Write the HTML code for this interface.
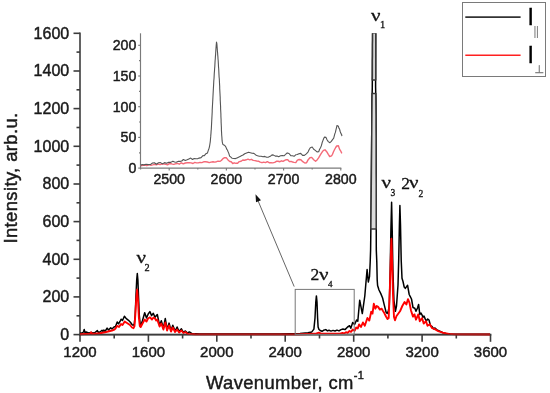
<!DOCTYPE html>
<html><head><meta charset="utf-8"><title>Raman spectrum</title>
<style>html,body{margin:0;padding:0;background:#fff;}svg{display:block;filter:blur(0.3px);}</style>
</head><body>
<svg width="550" height="393" viewBox="0 0 550 393">
<rect width="550" height="393" fill="#fff"/>
<g stroke="#3c3c3c" stroke-width="1.6" fill="none" stroke-linecap="butt">
<line x1="80" y1="32.5" x2="80" y2="335.4"/>
<line x1="79.2" y1="334.6" x2="491.3" y2="334.6"/>
<line x1="73.5" y1="334.6" x2="80" y2="334.6"/>
<line x1="76.5" y1="315.8" x2="80" y2="315.8"/>
<line x1="73.5" y1="296.9" x2="80" y2="296.9"/>
<line x1="76.5" y1="278.1" x2="80" y2="278.1"/>
<line x1="73.5" y1="259.3" x2="80" y2="259.3"/>
<line x1="76.5" y1="240.4" x2="80" y2="240.4"/>
<line x1="73.5" y1="221.6" x2="80" y2="221.6"/>
<line x1="76.5" y1="202.8" x2="80" y2="202.8"/>
<line x1="73.5" y1="184.0" x2="80" y2="184.0"/>
<line x1="76.5" y1="165.1" x2="80" y2="165.1"/>
<line x1="73.5" y1="146.3" x2="80" y2="146.3"/>
<line x1="76.5" y1="127.5" x2="80" y2="127.5"/>
<line x1="73.5" y1="108.6" x2="80" y2="108.6"/>
<line x1="76.5" y1="89.8" x2="80" y2="89.8"/>
<line x1="73.5" y1="71.0" x2="80" y2="71.0"/>
<line x1="76.5" y1="52.1" x2="80" y2="52.1"/>
<line x1="73.5" y1="33.3" x2="80" y2="33.3"/>
<line x1="80.0" y1="334.6" x2="80.0" y2="341.8"/>
<line x1="114.2" y1="334.6" x2="114.2" y2="338.5"/>
<line x1="148.4" y1="334.6" x2="148.4" y2="341.8"/>
<line x1="182.6" y1="334.6" x2="182.6" y2="338.5"/>
<line x1="216.8" y1="334.6" x2="216.8" y2="341.8"/>
<line x1="251.0" y1="334.6" x2="251.0" y2="338.5"/>
<line x1="285.2" y1="334.6" x2="285.2" y2="341.8"/>
<line x1="319.5" y1="334.6" x2="319.5" y2="338.5"/>
<line x1="353.7" y1="334.6" x2="353.7" y2="341.8"/>
<line x1="387.9" y1="334.6" x2="387.9" y2="338.5"/>
<line x1="422.1" y1="334.6" x2="422.1" y2="341.8"/>
<line x1="456.3" y1="334.6" x2="456.3" y2="338.5"/>
<line x1="490.5" y1="334.6" x2="490.5" y2="341.8"/>
</g>
<g font-family="Liberation Sans, Arial, sans-serif" font-size="16" fill="#1a1a1a" stroke="#1a1a1a" stroke-width="0.45" text-anchor="end">
<text x="69.2" y="339.9">0</text>
<text x="69.2" y="302.2">200</text>
<text x="69.2" y="264.6">400</text>
<text x="69.2" y="226.9">600</text>
<text x="69.2" y="189.3">800</text>
<text x="69.2" y="151.6">1000</text>
<text x="69.2" y="113.9">1200</text>
<text x="69.2" y="76.3">1400</text>
<text x="69.2" y="38.6">1600</text>
</g>
<g font-family="Liberation Sans, Arial, sans-serif" font-size="15" fill="#1a1a1a" stroke="#1a1a1a" stroke-width="0.45" text-anchor="middle">
<text x="80.0" y="357.4">1200</text>
<text x="148.4" y="357.4">1600</text>
<text x="216.8" y="357.4">2000</text>
<text x="285.2" y="357.4">2400</text>
<text x="353.7" y="357.4">2800</text>
<text x="422.1" y="357.4">3200</text>
<text x="490.5" y="357.4">3600</text>
</g>
<text x="206" y="388.5" font-family="Liberation Sans, Arial, sans-serif" font-size="18.4" letter-spacing="0.38" fill="#1a1a1a" stroke="#1a1a1a" stroke-width="0.45">Wavenumber, cm<tspan font-size="11" dy="-10">-1</tspan></text>
<text transform="translate(17.2,243.6) rotate(-90)" font-family="Liberation Sans, Arial, sans-serif" font-size="18.4" letter-spacing="0.4" fill="#1a1a1a" stroke="#1a1a1a" stroke-width="0.45">Intensity, arb.u.</text>
<defs><clipPath id="cp"><rect x="80" y="33.3" width="420" height="310"/></clipPath></defs>
<g clip-path="url(#cp)" fill="none" stroke-linejoin="round">
<polyline points="80.0,333.3 82.0,333.0 83.5,332.0 84.2,329.5 85.0,332.5 86.7,332.1 88.5,333.0 91.1,332.4 93.0,333.0 95.0,332.5 97.3,330.6 98.5,332.5 100.0,332.0 102.0,330.3 103.0,331.5 103.8,330.0 105.0,331.5 107.1,328.1 108.5,330.0 110.7,327.7 112.0,329.0 114.0,327.0 115.5,326.5 117.2,321.9 118.5,323.8 120.0,321.5 121.2,319.2 122.5,320.5 124.4,316.2 125.8,318.0 127.0,319.2 128.5,320.3 130.4,322.3 132.0,324.5 133.2,325.3 134.3,324.0 135.2,315.0 136.0,295.0 136.7,280.0 137.3,273.5 137.9,280.0 138.6,298.0 139.3,315.0 140.1,323.5 140.8,325.3 142.5,320.5 144.7,312.7 146.5,317.9 148.2,314.0 149.9,311.6 151.6,315.6 153.3,313.3 155.0,317.3 157.3,314.5 159.6,325.3 161.3,320.8 163.4,328.2 165.3,318.5 167.1,329.4 169.1,323.1 171.0,330.5 172.8,325.3 175.1,331.0 177.1,327.0 179.1,331.6 181.4,328.8 183.4,332.3 185.4,331.0 187.4,333.0 189.4,331.9 192.0,333.6 200.0,333.9 220.0,334.0 250.0,334.0 280.0,333.9 300.0,333.6 308.0,332.8 311.8,331.9 313.9,329.1 315.0,318.0 315.8,302.0 316.4,295.9 317.0,302.0 317.6,318.0 318.1,327.0 319.0,329.5 320.2,330.5 322.0,331.3 323.5,330.3 325.8,329.6 327.5,330.9 329.0,330.3 331.0,331.1 333.0,330.4 335.0,331.0 337.0,330.1 339.0,330.9 341.0,329.6 343.0,329.0 345.0,329.6 347.6,327.0 349.6,325.7 350.8,328.2 352.7,322.5 354.6,324.4 356.6,320.0 357.8,321.2 359.7,300.2 362.3,313.6 364.8,296.0 366.0,282.0 367.1,269.6 368.3,282.0 369.5,276.5 370.2,262.0 370.6,250.0 371.1,210.0 371.6,150.0 372.0,100.0 372.3,87.0 372.6,33.0 372.8,20.0 375.5,20.0 375.7,33.0 375.6,87.0 375.9,100.0 376.1,150.0 376.2,210.0 376.3,250.0 376.8,262.0 377.2,280.0 377.6,285.5 379.0,290.0 380.8,293.6 382.6,298.0 384.3,305.1 386.1,312.2 387.2,313.5 388.3,311.0 389.3,305.0 390.2,270.0 390.9,230.0 391.6,202.3 392.2,230.0 392.9,270.0 393.9,300.0 395.4,311.3 396.5,306.0 398.0,285.0 398.7,260.0 399.4,225.0 399.9,205.5 400.5,225.0 401.2,260.0 402.0,278.2 403.0,281.5 404.2,287.0 405.3,288.4 407.6,285.3 409.2,294.5 410.4,296.8 411.5,299.0 413.0,307.5 414.8,308.2 416.0,311.3 417.5,308.0 418.6,304.4 419.8,314.4 421.0,313.0 422.1,315.1 422.9,317.4 424.0,316.0 425.2,318.9 426.3,321.2 427.7,319.0 429.0,320.0 430.5,325.8 432.0,326.5 433.6,328.9 435.0,328.0 436.6,329.6 439.7,331.1 442.5,332.5 445.8,333.4 450.0,334.0 490.0,334.3" stroke="#000" stroke-width="1.5"/>
<polyline points="80.0,334.2 85.0,334.0 90.0,333.8 91.1,332.2 92.0,333.8 95.0,333.6 100.0,333.2 105.0,332.3 108.0,331.5 110.0,331.0 112.0,330.5 114.4,329.6 115.5,328.5 117.0,325.9 119.0,327.0 121.0,324.0 122.5,325.0 124.7,321.6 127.0,323.0 130.0,325.0 132.0,327.5 133.5,328.2 134.5,326.0 135.3,315.0 136.2,300.0 137.1,289.5 138.0,300.0 138.9,318.0 139.8,326.0 140.7,327.0 142.5,323.5 144.7,319.6 146.5,321.5 148.0,318.5 150.0,317.3 152.0,319.5 153.5,317.5 155.0,318.5 156.2,320.5 157.3,319.6 159.6,326.5 161.3,323.5 163.4,329.5 165.3,322.5 167.1,330.5 169.1,325.5 171.0,331.5 172.8,327.5 175.1,332.0 177.1,329.5 179.1,332.5 181.4,330.5 183.4,333.0 185.4,332.0 188.0,333.9 195.0,334.3 250.0,334.4 300.0,334.3 315.0,333.8 319.0,332.7 321.0,333.6 340.0,333.6 342.5,333.0 344.0,333.5 346.0,332.2 347.6,332.8 349.5,331.0 351.0,331.8 352.7,329.6 354.6,330.8 356.2,327.5 357.8,328.4 359.1,324.4 361.0,327.0 362.9,322.5 364.8,325.7 367.4,318.0 369.3,320.6 371.2,311.7 372.5,313.6 373.8,303.8 375.4,308.7 376.7,306.0 378.1,306.9 379.9,309.6 381.7,308.7 383.0,311.0 384.3,313.1 386.0,316.5 387.5,319.0 388.7,318.0 389.8,290.0 390.8,257.0 391.4,238.8 392.0,257.0 393.0,295.0 394.0,317.0 395.0,320.3 396.5,316.0 398.0,314.0 400.0,311.3 402.3,306.0 404.6,302.1 406.4,304.4 408.0,299.1 409.5,302.9 411.0,310.5 413.0,316.6 414.5,314.4 416.0,319.7 418.3,314.4 419.8,321.2 422.1,318.2 423.7,323.5 426.0,321.2 427.5,325.8 429.8,324.3 432.0,328.1 434.4,328.9 438.2,331.1 442.7,332.7 448.9,333.9 455.0,334.4 490.0,334.5" stroke="#ff0000" stroke-width="1.9"/>
<polygon points="372.6,33.0 372.6,36.9 372.6,40.8 372.5,44.8 372.5,48.7 372.5,52.6 372.5,56.5 372.4,60.4 372.4,64.3 372.4,68.2 372.4,72.2 372.4,76.1 372.3,80.0 375.7,80.0 375.7,76.1 375.7,72.2 375.7,68.2 375.7,64.3 375.7,60.4 375.7,56.5 375.7,52.6 375.7,48.7 375.7,44.8 375.7,40.8 375.7,36.9 375.7,33.0" fill="#dcdcdc" stroke="#383838" stroke-width="1.5"/>
<polygon points="372.1,93.6 372.0,104.9 371.9,116.2 371.8,127.4 371.7,138.7 371.6,150.0 371.5,161.3 371.4,172.6 371.3,183.9 371.2,195.2 371.1,206.4 371.0,217.7 370.9,229.0 376.2,229.0 376.2,217.7 376.2,206.4 376.2,195.2 376.2,183.9 376.1,172.6 376.1,161.3 376.1,150.0 376.1,138.7 376.0,127.4 376.0,116.2 375.9,104.9 375.8,93.6" fill="#dcdcdc" stroke="#383838" stroke-width="1.5"/>
</g>
<line x1="79.2" y1="334.6" x2="491.3" y2="334.6" stroke="#3c3c3c" stroke-width="1.6" stroke-opacity="0.45"/>
<rect x="295.2" y="289.4" width="59" height="45" fill="none" stroke="#777" stroke-width="1"/>
<line x1="294.2" y1="286.6" x2="257.5" y2="199.5" stroke="#666" stroke-width="1"/>
<polygon points="255.5,194.2 256.0,202.3 261.0,200.2" fill="#111"/>
<g stroke="#7a7a7a" stroke-width="1.15" fill="none">
<line x1="140.5" y1="33.3" x2="140.5" y2="168.6"/>
<line x1="140" y1="168.1" x2="341.3" y2="168.1"/>
<line x1="138.2" y1="168.1" x2="140.5" y2="168.1"/>
<line x1="139.0" y1="152.8" x2="140.5" y2="152.8"/>
<line x1="138.2" y1="137.4" x2="140.5" y2="137.4"/>
<line x1="139.0" y1="122.0" x2="140.5" y2="122.0"/>
<line x1="138.2" y1="106.7" x2="140.5" y2="106.7"/>
<line x1="139.0" y1="91.3" x2="140.5" y2="91.3"/>
<line x1="138.2" y1="76.0" x2="140.5" y2="76.0"/>
<line x1="139.0" y1="60.6" x2="140.5" y2="60.6"/>
<line x1="138.2" y1="45.3" x2="140.5" y2="45.3"/>
<line x1="140.6" y1="168.1" x2="140.6" y2="169.6"/>
<line x1="169.2" y1="168.1" x2="169.2" y2="170.6"/>
<line x1="197.8" y1="168.1" x2="197.8" y2="169.6"/>
<line x1="226.4" y1="168.1" x2="226.4" y2="170.6"/>
<line x1="255.0" y1="168.1" x2="255.0" y2="169.6"/>
<line x1="283.6" y1="168.1" x2="283.6" y2="170.6"/>
<line x1="312.2" y1="168.1" x2="312.2" y2="169.6"/>
<line x1="340.8" y1="168.1" x2="340.8" y2="170.6"/>
</g>
<g font-family="Liberation Sans, Arial, sans-serif" font-size="14.2" fill="#1a1a1a" stroke="#1a1a1a" stroke-width="0.45" text-anchor="end">
<text x="136.3" y="173.0">0</text>
<text x="136.3" y="142.3">50</text>
<text x="136.3" y="111.6">100</text>
<text x="136.3" y="80.9">150</text>
<text x="136.3" y="50.2">200</text>
</g>
<g font-family="Liberation Sans, Arial, sans-serif" font-size="14.2" fill="#1a1a1a" stroke="#1a1a1a" stroke-width="0.45" text-anchor="middle">
<text x="169.2" y="183.6">2500</text>
<text x="226.4" y="183.6">2600</text>
<text x="283.6" y="183.6">2700</text>
<text x="340.8" y="183.6">2800</text>
</g>
<polyline points="140.8,165.8 142.9,165.4 144.8,165.1 146.9,165.7 149.0,164.7 150.9,165.3 152.7,164.9 154.5,164.4 156.3,164.9 158.2,164.1 160.0,164.6 161.9,164.0 163.8,163.9 165.7,164.3 167.6,164.8 169.2,163.7 171.0,163.7 172.4,164.1 173.8,164.4 176.0,163.7 177.5,163.4 179.3,164.2 181.2,162.8 183.3,163.9 185.3,163.0 187.3,162.8 189.2,162.7 191.1,162.9 193.0,163.5 194.8,162.4 196.5,162.9 198.2,162.9 200.0,162.4 201.8,162.6 203.7,161.8 205.6,161.8 207.4,162.0 209.2,162.6 211.0,162.1 213.0,161.8 214.8,162.1 216.5,161.7 218.0,161.2 219.9,161.4 221.3,160.5 222.9,158.7 224.6,157.7 226.4,157.8 228.2,160.2 229.8,161.5 231.2,161.8 232.7,163.5 234.2,162.8 236.0,163.3 237.6,163.3 239.3,161.6 241.1,161.3 242.8,160.0 244.5,160.2 246.2,159.8 248.0,159.2 249.7,159.8 251.4,159.3 253.2,160.4 255.0,160.6 256.7,161.0 258.4,161.2 260.2,162.2 262.0,162.7 263.7,162.1 265.5,162.6 267.3,161.7 269.1,162.7 270.9,162.6 272.8,162.9 274.7,162.4 276.4,161.3 278.0,161.3 279.9,161.7 281.5,160.8 283.0,161.4 284.7,160.4 286.2,159.7 287.8,159.7 289.4,161.6 291.0,161.4 292.6,162.0 294.1,162.4 295.8,162.6 297.4,160.1 299.1,159.5 300.9,159.7 302.8,161.7 304.8,163.0 306.6,162.7 308.2,159.7 309.9,157.8 311.7,157.4 313.7,159.7 315.6,161.3 317.3,159.7 318.6,157.9 319.9,155.6 321.1,153.6 322.3,151.8 323.5,150.4 325.0,149.8 326.7,151.7 328.3,154.4 329.7,156.5 331.5,155.8 332.5,154.3 333.5,151.7 334.6,149.5 335.7,147.5 336.7,146.0 338.4,145.7 339.5,149.1 340.6,150.8 341.6,152.9 341.9,153.4" fill="none" stroke="#f46a78" stroke-width="1.4" stroke-linejoin="round"/>
<polyline points="140.8,165.2 142.1,164.5 143.9,164.9 146.1,164.3 148.4,164.6 150.7,164.4 152.5,163.0 154.4,162.7 156.4,164.2 158.5,162.8 160.5,162.6 162.5,163.9 164.5,162.6 166.6,163.2 168.7,162.2 170.8,162.4 172.8,161.2 174.6,162.0 176.2,162.2 178.5,161.2 180.1,161.4 181.7,161.0 183.4,159.5 185.3,160.5 187.1,159.8 188.9,158.9 190.7,158.1 192.5,159.5 194.2,158.5 196.0,158.7 197.6,158.8 199.1,158.1 201.1,157.6 202.9,155.6 204.3,155.7 205.8,153.8 207.5,152.9 208.2,150.6 208.8,149.0 209.3,147.3 209.6,145.8 209.9,144.0 210.2,142.1 210.4,140.2 210.5,138.6 210.7,136.9 210.8,135.1 211.0,133.1 211.1,131.1 211.3,129.2 211.4,127.4 211.5,125.4 211.6,123.4 211.7,121.4 211.8,119.5 211.9,117.6 212.0,115.8 212.1,113.9 212.2,112.0 212.2,110.3 212.3,108.6 212.4,106.9 212.5,105.0 212.6,103.3 212.7,101.5 212.8,99.6 212.9,97.7 213.0,95.8 213.1,93.9 213.2,92.0 213.3,90.1 213.4,88.4 213.5,86.6 213.6,84.9 213.7,82.9 213.8,80.8 214.0,78.8 214.1,77.0 214.2,75.0 214.3,73.0 214.5,70.8 214.6,68.7 214.8,66.6 214.9,64.5 215.0,62.6 215.1,60.8 215.3,58.8 215.4,56.6 215.6,54.6 215.7,52.7 215.8,51.0 215.9,49.5 216.0,48.0 216.1,46.7 216.2,45.4 216.4,43.3 216.5,42.0 216.8,43.3 217.0,45.4 217.1,46.7 217.2,48.0 217.3,49.5 217.4,51.0 217.6,52.7 217.7,54.6 217.9,56.6 218.0,58.8 218.2,60.8 218.3,62.6 218.4,64.5 218.5,66.6 218.7,68.7 218.8,70.8 218.9,73.0 219.0,75.0 219.1,77.0 219.3,78.8 219.4,80.8 219.5,82.9 219.6,84.9 219.7,86.6 219.7,88.4 219.8,90.1 219.9,92.0 220.0,93.8 220.1,95.7 220.2,97.5 220.2,99.4 220.3,101.3 220.4,103.1 220.5,105.0 220.6,106.8 220.6,108.7 220.7,110.5 220.8,112.3 220.9,114.1 220.9,116.0 221.0,118.0 221.1,119.8 221.1,121.8 221.2,123.7 221.3,125.8 221.4,127.7 221.4,129.6 221.5,131.4 221.6,133.0 221.7,135.3 221.9,137.3 222.0,139.1 222.1,140.7 222.3,142.0 222.5,143.2 223.0,144.6 224.8,145.5 225.8,146.9 226.8,149.3 227.4,149.9 228.0,151.6 228.8,153.4 229.6,156.1 230.6,156.9 232.2,158.3 233.9,158.5 235.5,158.6 237.0,157.9 238.5,157.2 240.0,156.6 241.3,155.7 243.0,155.0 244.7,153.7 246.6,153.0 248.5,152.3 250.3,152.8 252.1,153.3 253.9,153.4 255.7,154.9 257.5,155.7 259.3,156.2 261.1,156.2 263.0,156.8 264.7,156.4 266.7,157.3 268.5,157.1 270.3,156.3 272.0,154.9 273.6,155.1 275.3,156.1 277.0,156.0 278.7,156.7 280.5,155.8 282.3,155.5 284.0,155.8 285.6,154.4 287.2,152.9 289.0,153.5 290.8,155.6 292.5,155.7 294.1,156.3 295.7,154.8 297.3,154.5 298.9,153.7 300.7,153.4 302.6,155.4 304.4,155.4 306.3,153.8 308.0,152.1 309.2,149.5 310.3,147.7 312.2,147.0 313.7,149.2 315.3,150.4 317.0,151.9 318.7,151.7 319.6,149.2 320.5,147.7 321.4,145.6 322.1,142.8 322.9,140.6 323.7,138.5 324.5,137.1 326.0,137.4 327.0,139.7 328.3,141.6 329.9,142.7 331.3,141.3 332.9,139.2 333.7,138.1 334.3,135.9 334.8,133.9 335.4,132.4 336.0,129.6 336.5,127.6 337.0,125.5 338.4,126.3 338.9,128.1 339.5,128.9 340.2,131.5 341.0,133.6 341.7,134.8 341.9,136.1" fill="none" stroke="#555" stroke-width="1.1" stroke-linejoin="round"/>
<text transform="translate(371.0,20.9) scale(1.2,1)" font-family="Liberation Serif, Times New Roman, serif" fill="#111" stroke="#111" stroke-width="0.3" font-size="17.5">&#957;</text>
<text x="380.1" y="28.0" font-family="Liberation Serif, Times New Roman, serif" fill="#111" stroke="#111" stroke-width="0.3" font-size="10.5">1</text>
<text transform="translate(136.6,263.3) scale(1.2,1)" font-family="Liberation Serif, Times New Roman, serif" fill="#111" stroke="#111" stroke-width="0.3" font-size="17.5">&#957;</text>
<text x="144.6" y="271.3" font-family="Liberation Serif, Times New Roman, serif" fill="#111" stroke="#111" stroke-width="0.3" font-size="10.3">2</text>
<text x="310.6" y="280.3" font-family="Liberation Serif, Times New Roman, serif" fill="#111" stroke="#111" stroke-width="0.3" font-size="17.5">2</text>
<text transform="translate(319.1,280.3) scale(1.2,1)" font-family="Liberation Serif, Times New Roman, serif" fill="#111" stroke="#111" stroke-width="0.3" font-size="17.5">&#957;</text>
<text x="328.0" y="287.3" font-family="Liberation Serif, Times New Roman, serif" fill="#111" stroke="#111" stroke-width="0.3" font-size="9">4</text>
<text transform="translate(381.6,187.6) scale(1.2,1)" font-family="Liberation Serif, Times New Roman, serif" fill="#111" stroke="#111" stroke-width="0.3" font-size="17.5">&#957;</text>
<text x="390.4" y="195.8" font-family="Liberation Serif, Times New Roman, serif" fill="#111" stroke="#111" stroke-width="0.3" font-size="9.5">3</text>
<text x="401.3" y="189.3" font-family="Liberation Serif, Times New Roman, serif" fill="#111" stroke="#111" stroke-width="0.3" font-size="17.5">2</text>
<text transform="translate(409.0,187.6) scale(1.2,1)" font-family="Liberation Serif, Times New Roman, serif" fill="#111" stroke="#111" stroke-width="0.3" font-size="17.5">&#957;</text>
<text x="418.4" y="196.8" font-family="Liberation Serif, Times New Roman, serif" fill="#111" stroke="#111" stroke-width="0.3" font-size="9.5">2</text>
<rect x="462.5" y="2.5" width="83" height="74" fill="#fff" stroke="#7a7a7a" stroke-width="1"/>
<line x1="465.3" y1="17.1" x2="520.6" y2="17.1" stroke="#333" stroke-width="1.6"/>
<line x1="465.3" y1="55.2" x2="520.6" y2="55.2" stroke="#ff2020" stroke-width="1.5"/>
<text x="527.5" y="24.6" font-family="Liberation Sans, Arial, sans-serif" font-size="23" fill="#000" stroke="#000" stroke-width="0.35">I<tspan font-size="13" stroke="none" fill="#858585" dy="10" dx="-0.6" letter-spacing="-1">||</tspan></text>
<text x="527.5" y="63.2" font-family="Liberation Sans, Arial, sans-serif" font-size="23" fill="#000" stroke="#000" stroke-width="0.35">I<tspan font-family="DejaVu Sans, sans-serif" font-size="11" stroke="#777" stroke-width="0.3" fill="#777" dy="9.5" dx="0.5">&#8869;</tspan></text>
</svg>
</body></html>
